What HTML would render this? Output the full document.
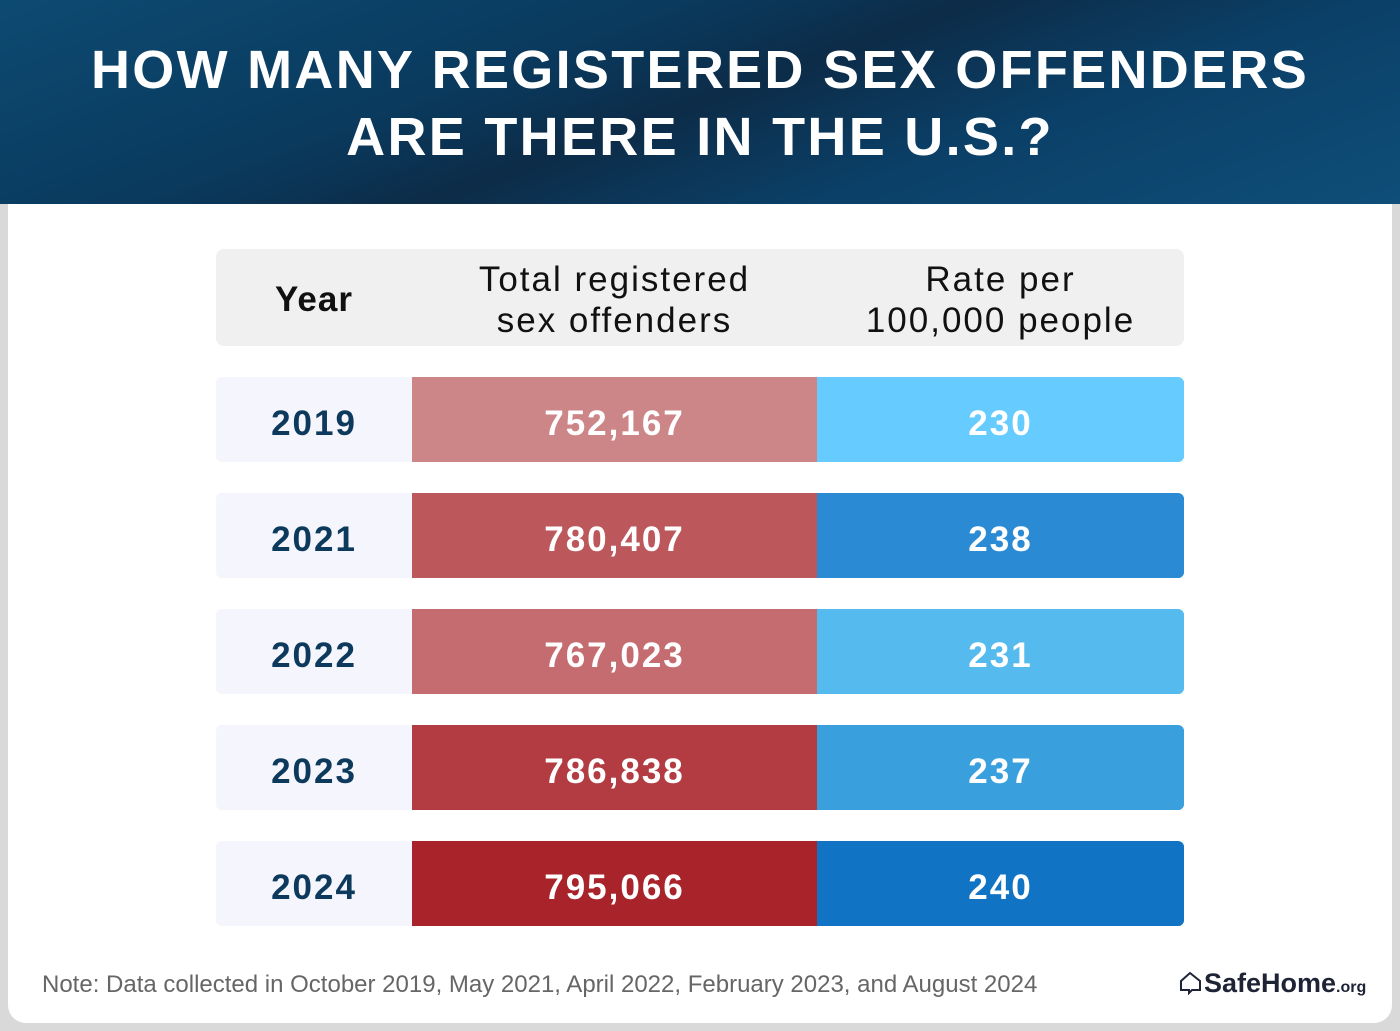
<!DOCTYPE html>
<html><head><meta charset="utf-8"><style>
body{margin:0;width:1400px;height:1031px;background:#d9d9d9;position:relative;overflow:hidden;font-family:"Liberation Sans",sans-serif}
.card{position:absolute;left:8px;top:0;width:1384px;height:1023px;background:#fff;border-radius:0 0 18px 18px}
.hdr{position:absolute;left:0;top:0;width:1400px;height:204px;background:linear-gradient(160deg,#0d4a72 0%,#0a3a5e 35%,#0c2c48 50%,#0b4068 70%,#0e4e78 100%);color:#fff;text-align:center;font-weight:bold;font-size:54px;letter-spacing:2.3px;line-height:67px;padding-top:37px;box-sizing:border-box}
.th{position:absolute;left:216px;top:249px;width:968px;height:97px;background:#f0f0f0;border-radius:8px}
.th div{position:absolute;top:2px;height:97px;display:flex;align-items:center;justify-content:center;text-align:center;font-size:35px;letter-spacing:2px;line-height:41px;color:#111}
.row{position:absolute;left:216px;width:968px;height:85px;border-radius:6px;overflow:hidden;font-weight:bold;font-size:35px;letter-spacing:2px;isolation:isolate}
.row div{position:absolute;top:4px;height:85px;display:flex;align-items:center;justify-content:center}
.row div::before{content:"";position:absolute;left:0;right:0;top:-4px;bottom:4px;background:inherit;z-index:-1}
.y{left:0;width:196px;background:#f5f6fd;color:#0d3a5c}
.r{left:196px;width:405px;color:#fff}
.b{left:601px;width:367px;color:#fff}
.note{position:absolute;left:42px;top:971px;font-size:24px;color:#666}
.logo{position:absolute;left:1178px;top:968px;font-size:27px;font-weight:bold;color:#1e2436}
</style></head><body>
<div class="card"></div>
<div class="hdr">HOW MANY REGISTERED SEX OFFENDERS<br>ARE THERE IN THE U.S.?</div>
<div class="th"><div style="left:0;width:196px;font-weight:bold;letter-spacing:1px">Year</div><div style="left:196px;width:405px">Total registered<br>sex offenders</div><div style="left:601px;width:367px">Rate per<br>100,000 people</div></div>
<div class="row" style="top:377px;background:#f5f6fd"><div class="y">2019</div><div class="r" style="background:#cd8688">752,167</div><div class="b" style="background:#66ccff">230</div></div>
<div class="row" style="top:493px;background:#f5f6fd"><div class="y">2021</div><div class="r" style="background:#bc575c">780,407</div><div class="b" style="background:#2a8bd4">238</div></div>
<div class="row" style="top:609px;background:#f5f6fd"><div class="y">2022</div><div class="r" style="background:#c46c70">767,023</div><div class="b" style="background:#55baee">231</div></div>
<div class="row" style="top:725px;background:#f5f6fd"><div class="y">2023</div><div class="r" style="background:#b23c42">786,838</div><div class="b" style="background:#3aa0dd">237</div></div>
<div class="row" style="top:841px;background:#f5f6fd"><div class="y">2024</div><div class="r" style="background:#a8232a">795,066</div><div class="b" style="background:#1173c4">240</div></div>
<div class="note">Note: Data collected in October 2019, May 2021, April 2022, February 2023, and August 2024</div>
<div class="logo"><svg width="26" height="26" viewBox="0 0 26 26" style="vertical-align:-3px"><path d="M3 12 L12 4 L22 12 V21 H14 L11 24 V21 H3 Z" fill="none" stroke="#1e2436" stroke-width="2"/></svg>SafeHome<span style="font-size:16px">.org</span></div>
</body></html>
